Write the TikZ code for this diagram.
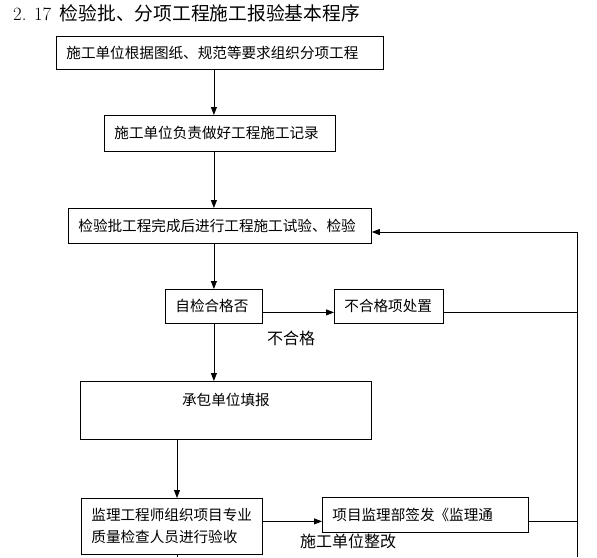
\documentclass[tikz,border=0pt]{standalone}
\usepackage{fontspec}
\newfontfamily\cjk{Noto Sans CJK SC}
\usetikzlibrary{arrows.meta}

\begin{document}
\begin{tikzpicture}[x=1pt, y=-1pt,
  box/.style={draw, line width=0.8pt, anchor=north west, inner xsep=10pt, inner ysep=0pt, align=left, font=\cjk\fontsize{14.6}{22}\selectfont},
  arr/.style={-{Triangle[length=8pt,width=6pt]}, line width=0.8pt, draw=black},
  lbl/.style={font=\cjk\fontsize{16}{20}\selectfont, inner sep=0pt}]
\useasboundingbox (0,0) rectangle (597,557);
\node[anchor=west, inner sep=0pt, font=\fontsize{18.75}{22}\selectfont] (T) at (13,13.5) {2. 17\hspace{3pt} {\cjk 检验批、分项工程施工报验基本程序}};
\node[box, text width=307pt, minimum height=33pt] (1) at (56,36) {施工单位根据图纸、规范等要求组织分项工程};
\node[box, text width=211pt, minimum height=36pt] (2) at (104,115) {施工单位负责做好工程施工记录};
\node[box, text width=283pt, minimum height=35pt] (3) at (68,208) {检验批工程完成后进行工程施工试验、检验};
\node[box, text width=77pt, minimum height=34pt] (4) at (165,289) {自检合格否};
\node[box, text width=89pt, minimum height=34pt] (5) at (334,289) {不合格项处置};
\node[box, text width=271pt, minimum height=58pt, align=center] (6) at (80,381) {承包单位填报\\\mbox{}};
\node[box, text width=161pt, minimum height=56pt] (7) at (81,498) {监理工程师组织项目专业\\质量检查人员进行验收};
\node[box, text width=186pt, minimum height=35pt] (8) at (322,497) {项目监理部签发《监理通};
\node[lbl] (no) at (291,338) {不合格};
\node[lbl] (redo) at (348,541) {施工单位整改};
\coordinate (rt) at (577,232);
\coordinate (rb) at (577,557);
\coordinate (down) at (177,557);
\draw [arr] (4 |- 1.south) -- (4 |- 2.north);
\draw [arr] (4 |- 2.south) -- (4 |- 3.north);
\draw [arr] (4 |- 3.south) -- (4.north);
\draw [arr] (4.south) -- (4.south |- 6.north);
\draw [arr] ([xshift=97pt]6.south west) -- ([xshift=96pt]7.north west);
\draw [line width=0.8pt] ([xshift=96pt]7.south west) -- (down);
\draw [arr] ([yshift=-6pt]4.east) -- ([yshift=-6pt]4.east -| 5.west);
\draw [arr] ([yshift=5pt]7.east) -- ([yshift=5pt]7.east -| 8.west);
\draw [line width=0.8pt] ([yshift=-6pt]5.east) -- ([yshift=-6pt]5.east -| rt);
\draw [line width=0.8pt] ([yshift=-6pt]8.east) -- ([yshift=-6pt]8.east -| rt);
\draw [arr] (rb) -- (rt) -- (rt -| 3.east);
\end{tikzpicture}
\end{document}
